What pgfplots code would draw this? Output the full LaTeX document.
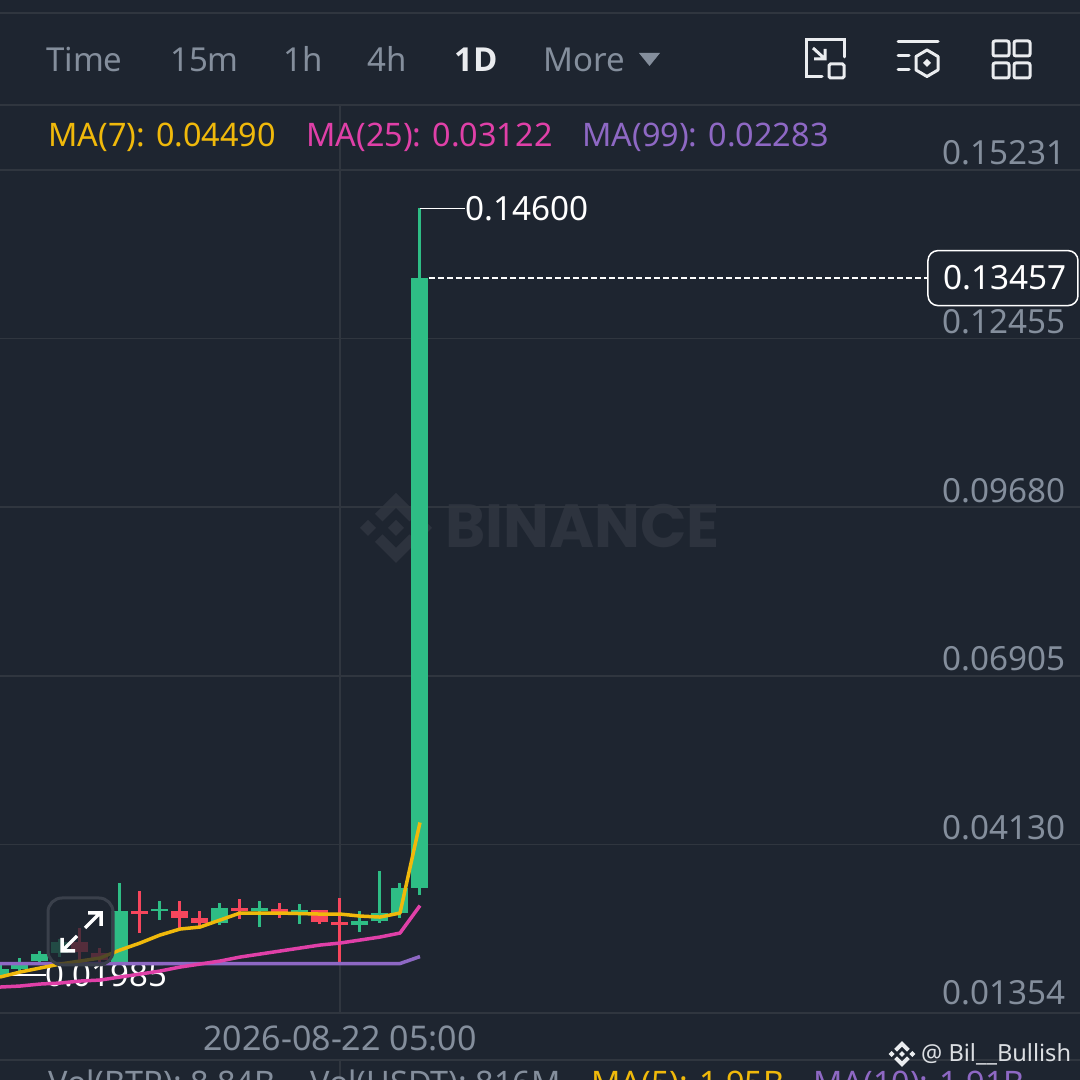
\documentclass[border=0pt]{standalone}
\usepackage{fontspec}
\setmainfont{Noto Sans}
\newfontfamily\wmfont{Poppins}
\newfontfamily\boldfont{Open Sans}
\usepackage{pgfplots}
\pgfplotsset{compat=1.18}
\definecolor{bg}{HTML}{1E2530}
\definecolor{gridc}{HTML}{30363F}
\definecolor{btn}{HTML}{3A404B}
\definecolor{grayt}{HTML}{848E9C}
\definecolor{wm}{HTML}{2D333E}
\definecolor{up}{HTML}{2EBD85}
\definecolor{down}{HTML}{F6465D}
\definecolor{ma7}{HTML}{F0B90B}
\definecolor{ma25}{HTML}{E040A8}
\definecolor{ma99}{HTML}{8E68C4}
\definecolor{iconw}{HTML}{EAECEF}
\newcommand\sz[1]{\fontsize{#1}{#1}\selectfont}
\newcommand\binlogo[4]{%
 \begin{scope}[shift={(#1,#2)},scale=#3]
 \fill[#4] (0,-35)--(21,-14)--(13.5,-6.5)--(0,-20)--(-13.5,-6.5)--(-21,-14)--cycle;
 \fill[#4] (0,35)--(21,14)--(13.5,6.5)--(0,20)--(-13.5,6.5)--(-21,14)--cycle;
 \fill[#4] (0,-8)--(8,0)--(0,8)--(-8,0)--cycle;
 \fill[#4] (-28,-8)--(-20,0)--(-28,8)--(-36,0)--cycle;
 \fill[#4] (28,-8)--(36,0)--(28,8)--(20,0)--cycle;
 \end{scope}}
\begin{document}
\begin{tikzpicture}
\useasboundingbox (0,0) rectangle (1080pt,1080pt);
\clip (0,0) rectangle (1080pt,1080pt);
\fill[bg] (0,0) rectangle (1080pt,1080pt);
\begin{scope}[x=1pt,y=-1pt,shift={(0,1080pt)}]
 \draw[gridc,line width=2pt] (0,13)--(1080,13);
 \draw[gridc,line width=2pt] (0,105)--(1080,105);
 \draw[gridc,line width=2pt] (0,1060)--(1080,1060);
 \draw[gridc,line width=2pt] (0,1013)--(1080,1013);
 \draw[gridc,line width=1.5pt] (340,105)--(340,1013);
 \draw[gridc,line width=1.5pt] (340,1060)--(340,1080);
 \binlogo{396}{528}{1}{wm}
 \node[anchor=base west,inner sep=0,text=wm] at (445,548) {\wmfont\bfseries\sz{61}BINANCE};
\end{scope}
\begin{axis}[
 at={(0,0)},anchor=south west,
 scale only axis,width=1080pt,height=1080pt,
 xmin=0,xmax=54,ymin=0.00251,ymax=0.18030,
 axis line style={draw=none},
 major tick length=0pt,
 clip=false,
 xtick={17},xticklabels={2026-08-22 05:00},
 xticklabel style={font=\sz{34},text=grayt,anchor=center,yshift=42pt},
 ytick={0.01354,0.04130,0.06905,0.09680,0.12455,0.15231},
 yticklabels={\raisebox{3pt}[\height][\depth]{0.01354},0.04130,0.06905,0.09680,0.12455,0.15231},
 yticklabel pos=right,
 yticklabel style={font=\sz{33.2},text=grayt,anchor=east,xshift=-11pt,yshift=17pt},
 ymajorgrids,
 grid style={gridc,line width=1.5pt},
 scaled y ticks=false,
 unbounded coords=jump,
]
% price tag for the low
\addplot[white,line width=1.5pt,forget plot] coordinates {(0,0.01980)(2.3,0.01980)};
\node[anchor=west,inner sep=0,text=white,font=\sz{33}] at (axis cs:2.25,0.01985) {0.01985};
% wicks
\addplot[up,line width=3pt,line cap=butt] coordinates {
(0,0.019292)(0,0.021432)(0,nan)
(1,0.020444)(1,0.022585)(1,nan)
(2,0.021926)(2,0.023737)(2,nan)
(3,0.022749)(3,0.025712)(3,nan)
(6,0.021926)(6,0.034932)(6,nan)
(8,0.028840)(8,0.031968)(8,nan)
(11,0.028017)(11,0.031639)(11,nan)
(13,0.027688)(13,0.031968)(13,nan)
(15,0.028182)(15,0.031474)(15,nan)
(18,0.026865)(18,0.030322)(18,nan)
(19,0.028347)(19,0.036907)(19,nan)
(20,0.029170)(20,0.034932)(20,nan)
(21,0.032956)(21,0.14600)
};
\addplot[down,line width=3pt,line cap=butt] coordinates {
(4,0.021926)(4,0.027523)(4,nan)
(5,0.021926)(5,0.024231)(5,nan)
(7,0.026700)(7,0.033615)(7,nan)
(9,0.027523)(9,0.031968)(9,nan)
(10,0.027853)(10,0.030322)(10,nan)
(12,0.029005)(12,0.032298)(12,nan)
(14,0.029170)(14,0.031639)(14,nan)
(16,0.028182)(16,0.030487)(16,nan)
(17,0.021926)(17,0.032462)
};
% bodies
\addplot[up,line width=17pt,line cap=butt] coordinates {
(0,0.019786)(0,0.020774)(0,nan)
(1,0.020774)(1,0.021597)(1,nan)
(2,0.022091)(2,0.023243)(2,nan)
(3,0.023408)(3,0.025219)(3,nan)
(6,0.021926)(6,0.030322)(6,nan)
(8,0.030322)(8,0.030651)(8,nan)
(11,0.028347)(11,0.030816)(11,nan)
(13,0.030322)(13,0.030816)(13,nan)
(15,0.029993)(15,0.030487)(15,nan)
(18,0.028017)(18,0.028676)(18,nan)
(19,0.028676)(19,0.029993)(19,nan)
(20,0.029993)(20,0.034109)(20,nan)
(21,0.034109)(21,0.13457)
};
\addplot[down,line width=17pt,line cap=butt] coordinates {
(4,0.023572)(4,0.025219)(4,nan)
(5,0.022255)(5,0.023408)(5,nan)
(7,0.029828)(7,0.030322)(7,nan)
(9,0.029170)(9,0.030322)(9,nan)
(10,0.028347)(10,0.029170)(10,nan)
(12,0.030322)(12,0.030816)(12,nan)
(14,0.029993)(14,0.030651)(14,nan)
(16,0.028511)(16,0.030487)(16,nan)
(17,0.028017)(17,0.028511)
};
% moving averages
\addplot[ma99,line width=3.5pt,line join=round] coordinates {(0,0.021679)(20,0.021679)(21,0.02283)};
\addplot[ma25,line width=3.5pt,line join=round] coordinates {
(0,0.017810)(1,0.017975)(2,0.018304)(3,0.018469)(4,0.018798)(5,0.018963)(6,0.019457)
(7,0.019950)(8,0.020444)(9,0.021103)(10,0.021597)(11,0.022091)(12,0.022749)(13,0.023243)
(14,0.023737)(15,0.024231)(16,0.024725)(17,0.025054)(18,0.025548)(19,0.026042)(20,0.026700)(21,0.03122)};
\addplot[ma7,line width=3.5pt,line join=round] coordinates {
(0,0.019457)(1,0.020280)(2,0.020938)(3,0.021597)(4,0.022091)(5,0.022585)(6,0.023901)
(7,0.025054)(8,0.026371)(9,0.027359)(10,0.027688)(11,0.028840)(12,0.029993)(13,0.029993)
(14,0.029993)(15,0.029911)(16,0.029828)(17,0.029828)(18,0.029499)(19,0.029334)(20,0.029993)(21,0.04490)};
% last price and high
\addplot[white,line width=1.5pt,dash pattern=on 6pt off 3pt] coordinates {(21.45,0.13457)(46.4,0.13457)};
\addplot[white,line width=1.5pt] coordinates {(21,0.14600)(23.25,0.14600)};
\node[anchor=west,inner sep=0,text=white,font=\sz{33.3}] at (axis cs:23.25,0.14590) {0.14600};
\node[draw=white,line width=1.5pt,fill=bg,rounded corners=10pt,minimum width=150pt,minimum height=55pt,anchor=center,inner sep=0,text=white,font=\sz{33.3}] at (axis cs:50.15,0.13452) {\hspace{4pt}0.13457};
\end{axis}
\begin{scope}[x=1pt,y=-1pt,shift={(0,1080pt)}]
 % expand button
 \fill[bg,opacity=0.75,rounded corners=14pt] (48,898) rectangle (113,965);
 \draw[btn,line width=3pt,rounded corners=14pt] (48,898) rectangle (113,965);
 \draw[white,line width=3.5pt] (85,928)--(100,913) (88,913)--(101,913)--(101,926);
 \draw[white,line width=3.5pt] (77,936)--(62,951) (62,938)--(62,951)--(75,951);
 % header tabs
 \tikzset{tab/.style={anchor=base west,inner sep=0,font=\sz{33}}}
 \node[tab,text=grayt] at (46,72) {Time};
 \node[tab,text=grayt] at (170,72) {15m};
 \node[tab,text=grayt] at (283,72) {1h};
 \node[tab,text=grayt] at (367,72) {4h};
 \node[tab,text=iconw,font=\boldfont\bfseries\sz{33}] at (454,72) {1D};
 \node[tab,text=grayt] at (543,72) {More};
 \fill[grayt] (639,53)--(660,53)--(649.5,66)--cycle;
 % header icons
 \draw[iconw,line width=3pt,line cap=round] (822,77)--(806,77)--(806,40)--(844,40)--(844,57);
 \draw[iconw,line width=3pt,rounded corners=1.5pt] (829,64) rectangle (844,78);
 \draw[iconw,line width=3pt] (813,48)--(825,59) (814,59)--(825,59)--(825,49);
 \draw[iconw,line width=3pt,line cap=round] (898,42)--(938,42) (898,56)--(909,56) (898,70)--(909,70);
 \draw[iconw,line width=3pt,line join=round] (927,50)--(938,56.5)--(938,70)--(927,76.5)--(916,70)--(916,56.5)--cycle;
 \fill[iconw] (927,59)--(931,63)--(927,67)--(923,63)--cycle;
 \foreach \xx in {993,1014} \foreach \yy in {41,63}
   \draw[iconw,line width=3pt,rounded corners=2pt] (\xx,\yy) rectangle ++(16,15);
 % MA legend
 \tikzset{ma/.style={anchor=base west,inner sep=0,font=\sz{32.4}}}
 \node[ma,text=ma7] at (48,147) {MA(7): 0.04490};
 \node[ma,text=ma25] at (306,147) {MA(25): 0.03122};
 \node[ma,text=ma99] at (582,147) {MA(99): 0.02283};
 % bottom strip
 \node[ma,text=grayt] at (48,1095) {Vol(BTP): 8.84B};
 \node[ma,text=grayt] at (310,1095) {Vol(USDT): 816M};
 \node[ma,text=ma7] at (591,1095) {MA(5): 1.95B};
 \node[ma,text=ma99] at (813,1095) {MA(10): 1.91B};
 % attribution
 \binlogo{902}{1054}{0.37}{iconw}
 \node[anchor=base west,inner sep=0,text=iconw!85!grayt,font=\sz{23.6}] at (921,1062) {@ Bil\_\_Bullish};
\end{scope}
\end{tikzpicture}
\end{document}
